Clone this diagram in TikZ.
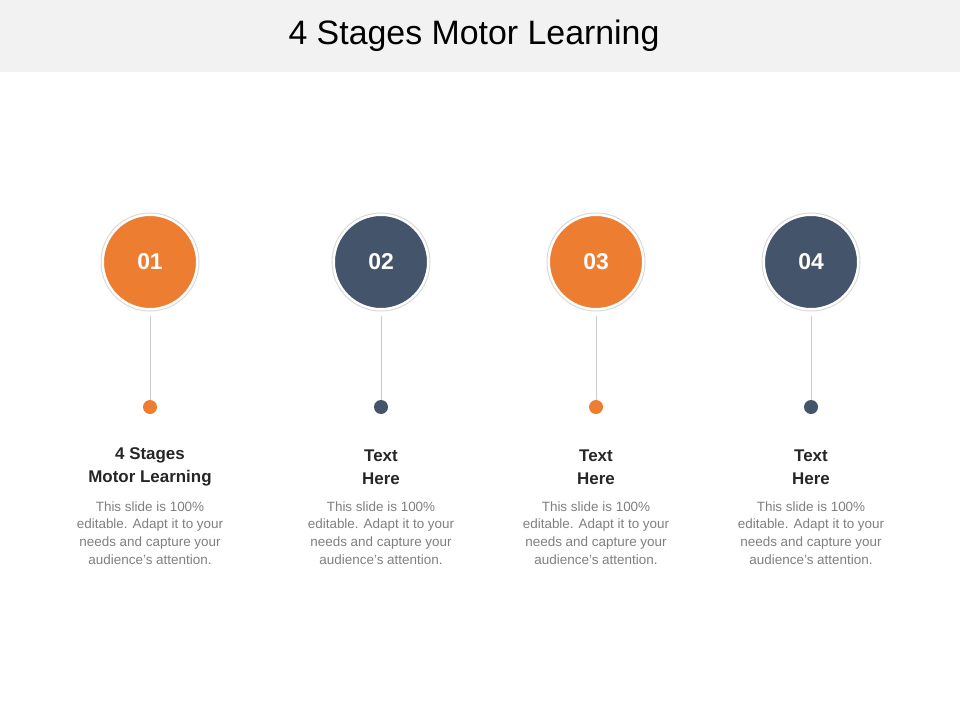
\documentclass[tikz,border=0pt]{standalone}
\usepackage{fontspec}
\setmainfont{Liberation Sans}
\definecolor{stageorange}{HTML}{ED7D31}
\definecolor{stagenavy}{HTML}{44546A}
\definecolor{bandgray}{HTML}{F2F2F2}
\definecolor{bodygray}{HTML}{7F7F7F}
\tikzset{
  stagecircle/.style={circle,minimum size=94bp,inner sep=0pt,draw=white,line width=2bp,
    text=white,font=\fontsize{23}{26}\selectfont\bfseries},
  stagering/.style={circle,minimum size=98bp,inner sep=0pt,draw=black!15,line width=1bp},
  stagedot/.style={circle,minimum size=14bp,inner sep=0pt},
  stagestem/.style={draw=black!20,line width=0.8bp},
  stagehead/.style={align=center,font=\fontsize{17}{23}\selectfont\bfseries,text=black!85},
  stagebody/.style={align=center,font=\fontsize{13.5}{17.7}\selectfont,text=bodygray},
}
\begin{document}
\begin{tikzpicture}[x=1bp,y=-1bp]
\useasboundingbox (0,0) rectangle (960,720);
\fill[bandgray] (0,0) rectangle (960,72);
\node (title) at (474,36) {\fontsize{34}{40}\selectfont 4 Stages Motor Learning};
%%
\foreach \i/\x/\c/\head in {1/150/stageorange/{4 Stages\\Motor Learning},
  2/381/stagenavy/{Text\\Here}, 3/596/stageorange/{Text\\Here}, 4/811/stagenavy/{Text\\Here}}{
  \node (ring\i) at (\x,262) [stagering] {};
  \node (num\i) at (\x,262) [stagecircle,fill=\c] {0\i};
  \node (dot\i) at (\x,407) [stagedot,fill=\c] {};
  \draw [stagestem] (ring\i.south) ++(0,4) -- (dot\i.north);
  \node (head\i) at (\x,467) [stagehead] {\head};
  \node (body\i) at (\x,533) [stagebody] {This slide is 100\%\\editable. Adapt it to your\\needs and capture your\\audience's attention.};
}
%
\end{tikzpicture}
\end{document}
